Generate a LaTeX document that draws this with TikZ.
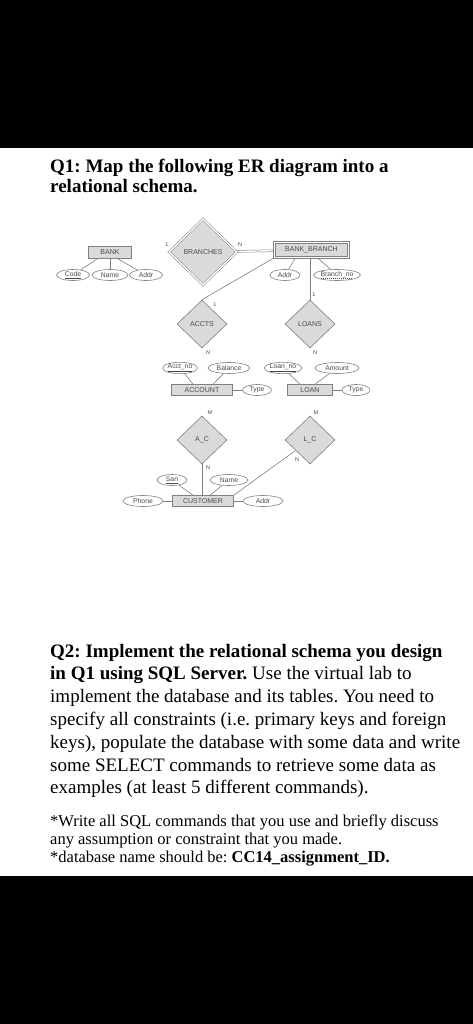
\documentclass[tikz,border=0pt]{standalone}
\usepackage{fontspec}
\setmainfont{Liberation Serif}
\newfontfamily\dsans{Liberation Sans}
\usetikzlibrary{shapes.geometric}
\definecolor{ergray}{HTML}{808080}
\definecolor{erfill}{HTML}{DADADA}
\definecolor{ertext}{HTML}{4A4A4A}
\pgfdeclarelayer{bg}
\pgfsetlayers{bg,main}
\frenchspacing
\tikzset{
  ent/.style={draw=ergray, fill=erfill, line width=0.6pt, rectangle, inner sep=0pt,
    minimum height=11pt, font=\dsans\fontsize{7}{8}\selectfont, text=ertext},
  weak/.style={ent, line width=0.5pt, double=white, double distance=1.4pt},
  attr/.style={draw=ergray, fill=white, line width=0.6pt, ellipse, inner sep=0pt,
    minimum height=11pt, font=\dsans\fontsize{6.8}{8}\selectfont, text=ertext},
  rel/.style={draw=ergray, fill=erfill, line width=0.6pt, diamond, inner sep=0pt,
    minimum width=50pt, minimum height=48pt, font=\dsans\fontsize{7}{8}\selectfont, text=ertext},
  conn/.style={draw=ergray, line width=0.6pt},
  dbl/.style={draw=ergray, line width=0.5pt, double=white, double distance=1.4pt},
  lbl/.style={font=\dsans\fontsize{5.5}{6}\selectfont, text=ertext, inner sep=0pt},
  hd/.style={anchor=base west, inner sep=0pt, font=\fontsize{19}{22}\selectfont\bfseries},
  bodytxt/.style={anchor=base west, inner sep=0pt, font=\fontsize{19}{22}\selectfont},
  notetxt/.style={anchor=base west, inner sep=0pt, font=\fontsize{16.5}{18}\selectfont},
}
\begin{document}
\begin{tikzpicture}[x=1pt,y=-1pt]
\useasboundingbox (0,0) rectangle (473,1024);
\begin{pgfonlayer}{bg}
\fill[white] (0,0) rectangle (473,1024);
\fill[black] (0,0) rectangle (473,148);
\fill[black] (0,876) rectangle (473,1024);
\end{pgfonlayer}

% headings
\node[hd] (t1) at (50,173) {Q1: Map the following ER diagram into a};
\node[hd] (t2) at (50,193) {relational schema.};

% ER diagram
\node[ent, minimum width=43pt, minimum height=12pt] (bank) at (110,252) {BANK};
\node[attr, minimum width=33pt] (code) at (73,275) {\underline{Code}};
\node[attr, minimum width=36pt] (bname) at (110,275) {Name};
\node[attr, minimum width=33pt] (baddr) at (146,275) {Addr};
\node[rel, minimum width=68pt, minimum height=66pt, line width=0.5pt, double=white, double distance=1.4pt] (branches) at (203,252) {BRANCHES};
\node[weak, minimum width=74pt, minimum height=15pt] (bb) at (311.5,250) {BANK\_BRANCH};
\node[attr, minimum width=30pt] (bbaddr) at (285,275) {Addr};
\node[attr, minimum width=47pt] (brno) at (337,275) {Branch\_no};
\draw[ertext, dashed, dash pattern=on 1pt off 1pt, line width=0.4pt] ([xshift=-16pt,yshift=-3.6pt]brno.center) -- ([xshift=16pt,yshift=-3.6pt]brno.center);
\node[rel] (accts) at (202,324) {ACCTS};
\node[rel] (loans) at (310,324) {LOANS};
\node[ent, minimum width=61pt] (account) at (202,390) {ACCOUNT};
\node[attr, minimum width=34pt] (acctno) at (180,368) {\underline{Acct\_no}};
\node[attr, minimum width=42pt] (balance) at (229,368) {Balance};
\node[attr, minimum width=29pt] (atype) at (257,390) {Type};
\node[ent, minimum width=45pt] (loan) at (310,390) {LOAN};
\node[attr, minimum width=37pt] (loanno) at (283,368) {\underline{Loan\_no}};
\node[attr, minimum width=44pt] (amount) at (337,368) {Amount};
\node[attr, minimum width=28pt] (ltype) at (356,390) {Type};
\node[rel] (ac) at (202,440) {A\_C};
\node[rel] (lc) at (310,440) {L\_C};
\node[ent, minimum width=61pt] (customer) at (203,501) {CUSTOMER};
\node[attr, minimum width=30pt] (ssn) at (172,480) {\underline{San}};
\node[attr, minimum width=38pt] (cname) at (229,480) {Name};
\node[attr, minimum width=40pt] (phone) at (143,501) {Phone};
\node[attr, minimum width=40pt] (caddr) at (263,501) {Addr};

% cardinality labels
\node[lbl] (c1) at (167,245) {1};
\node[lbl] (c2) at (240,245) {N};
\node[lbl] (c3) at (215,305) {1};
\node[lbl] (c4) at (314,295) {1};
\node[lbl] (c5) at (208,353) {N};
\node[lbl] (c6) at (315,353) {N};
\node[lbl] (c7) at (210,413) {M};
\node[lbl] (c8) at (316,413) {M};
\node[lbl] (c9) at (208,468) {N};
\node[lbl] (c10) at (297,460) {N};

\begin{pgfonlayer}{bg}
\draw[dbl] (bank) -- (branches);
\draw[dbl] (branches) -- (bb);
\draw[conn] ([xshift=-12pt]bank.south) -- (code);
\draw[conn] (bank) -- (bname);
\draw[conn] ([xshift=7pt]bank.south) -- (baddr);
\draw[conn] ([xshift=-16pt]bb.south) -- (bbaddr);
\draw[conn] ([xshift=6pt]bb.south) -- (brno);
\draw[conn] (bb.south west) -- (accts.north);
\draw[conn] (bb.south -| loans.north) -- (loans.north);
\draw[dbl] (accts) -- (account);
\draw[dbl] (loans) -- (loan);
\draw[conn] (acctno) -- ([xshift=-9pt]account.north);
\draw[conn] (balance) -- ([xshift=11pt]account.north);
\draw[conn] (account) -- (atype);
\draw[conn] (loanno) -- ([xshift=-10pt]loan.north);
\draw[conn] (amount) -- ([xshift=5pt]loan.north);
\draw[conn] (loan) -- (ltype);
\draw[dbl] (account) -- (ac);
\draw[dbl] (loan) -- (lc);
\draw[conn] (ac) -- (ac |- customer.north);
\draw[conn] (lc) -- (customer.north east);
\draw[conn] (ssn) -- ([xshift=-10pt]customer.north);
\draw[conn] (cname) -- ([xshift=7pt]customer.north);
\draw[conn] (phone) -- (customer);
\draw[conn] (customer) -- (caddr);
\end{pgfonlayer}

% Q2
\node[hd] (q1) at (50,657) {Q2: Implement the relational schema you design};
\node[bodytxt] (q2) at (50,679.8) {\textbf{in Q1 using SQL Server.} Use the virtual lab to};
\node[bodytxt] (q3) at (50,702.6) {implement the database and its tables. You need to};
\node[bodytxt] (q4) at (50,725.4) {specify all constraints (i.e. primary keys and foreign};
\node[bodytxt] (q5) at (50,748.2) {keys), populate the database with some data and write};
\node[bodytxt] (q6) at (50,771) {some SELECT commands to retrieve some data as};
\node[bodytxt] (q7) at (50,793.8) {examples (at least 5 different commands).};

\node[notetxt] (n1) at (50,826) {*Write all SQL commands that you use and briefly discuss};
\node[notetxt] (n2) at (50,844) {any assumption or constraint that you made.};
\node[notetxt] (n3) at (50,862) {*database name should be: \textbf{CC14\_assignment\_ID.}};
\end{tikzpicture}
\end{document}
